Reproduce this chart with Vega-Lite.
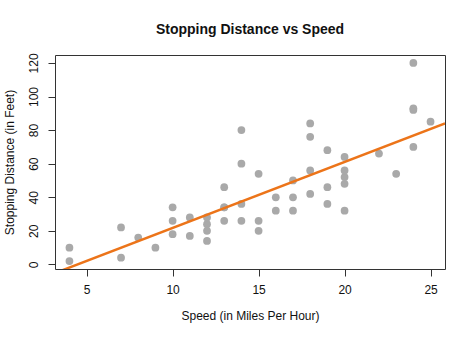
{
  "$schema": "https://vega.github.io/schema/vega-lite/v6.json",
  "width": 390,
  "height": 214,
  "autosize": {"type": "none"},
  "padding": {"left": 55, "top": 55, "right": 29, "bottom": 69},
  "background": "white",
  "config": {
    "font": "Liberation Sans",
    "view": {"stroke": "#333333", "strokeWidth": 1},
    "axis": {
      "grid": false,
      "domain": false,
      "tickColor": "#333333",
      "tickSize": 7,
      "labelFontSize": 12,
      "labelColor": "#111111",
      "labelFlush": false,
      "labelOverlap": false,
      "titleFontSize": 12,
      "titleFontWeight": "normal",
      "titleColor": "#111111",
      "labelPadding": 8
    }
  },
  "title": {
    "text": "Stopping Distance vs Speed",
    "fontSize": 14,
    "fontWeight": "bold",
    "color": "#111111",
    "anchor": "middle",
    "offset": 16
  },
  "data": {
    "values": [
      {"speed": 4, "dist": 2}, {"speed": 4, "dist": 10}, {"speed": 7, "dist": 4}, {"speed": 7, "dist": 22},
      {"speed": 8, "dist": 16}, {"speed": 9, "dist": 10}, {"speed": 10, "dist": 18}, {"speed": 10, "dist": 26},
      {"speed": 10, "dist": 34}, {"speed": 11, "dist": 17}, {"speed": 11, "dist": 28}, {"speed": 12, "dist": 14},
      {"speed": 12, "dist": 20}, {"speed": 12, "dist": 24}, {"speed": 12, "dist": 28}, {"speed": 13, "dist": 26},
      {"speed": 13, "dist": 34}, {"speed": 13, "dist": 34}, {"speed": 13, "dist": 46}, {"speed": 14, "dist": 26},
      {"speed": 14, "dist": 36}, {"speed": 14, "dist": 60}, {"speed": 14, "dist": 80}, {"speed": 15, "dist": 20},
      {"speed": 15, "dist": 26}, {"speed": 15, "dist": 54}, {"speed": 16, "dist": 32}, {"speed": 16, "dist": 40},
      {"speed": 17, "dist": 32}, {"speed": 17, "dist": 40}, {"speed": 17, "dist": 50}, {"speed": 18, "dist": 42},
      {"speed": 18, "dist": 56}, {"speed": 18, "dist": 76}, {"speed": 18, "dist": 84}, {"speed": 19, "dist": 36},
      {"speed": 19, "dist": 46}, {"speed": 19, "dist": 68}, {"speed": 20, "dist": 32}, {"speed": 20, "dist": 48},
      {"speed": 20, "dist": 52}, {"speed": 20, "dist": 56}, {"speed": 20, "dist": 64}, {"speed": 22, "dist": 66},
      {"speed": 23, "dist": 54}, {"speed": 24, "dist": 70}, {"speed": 24, "dist": 92}, {"speed": 24, "dist": 93},
      {"speed": 24, "dist": 120}, {"speed": 25, "dist": 85}
    ]
  },
  "encoding": {
    "x": {
      "field": "speed", "type": "quantitative",
      "scale": {"domain": [3.16, 25.84], "nice": false, "zero": false},
      "axis": {"title": "Speed (in Miles Per Hour)", "values": [5, 10, 15, 20, 25], "titlePadding": 15}
    },
    "y": {
      "field": "dist", "type": "quantitative",
      "scale": {"domain": [-2.72, 124.72], "nice": false, "zero": false},
      "axis": {"title": "Stopping Distance (in Feet)", "values": [0, 20, 40, 60, 80, 100, 120], "tickCount": 7, "labelAngle": 270, "labelAlign": "center", "labelBaseline": "bottom", "labelOverlap": false, "titlePadding": 11}
    }
  },
  "layer": [
    {
      "mark": {"type": "circle", "size": 60, "color": "#A9A9A9", "opacity": 1}
    },
    {
      "transform": [
        {"regression": "dist", "on": "speed", "extent": [3.16, 25.84]}
      ],
      "mark": {"type": "line", "color": "#EC7419", "strokeWidth": 2.5, "clip": true}
    }
  ]
}
